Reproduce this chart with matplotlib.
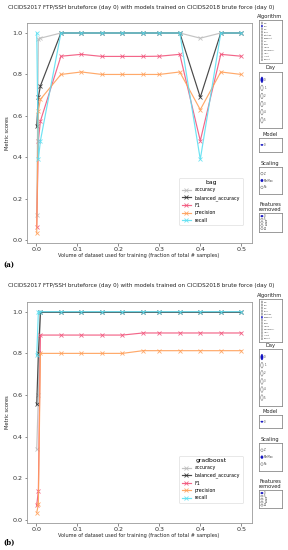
import matplotlib
matplotlib.use("Agg")
import matplotlib.pyplot as plt
from matplotlib.patches import Ellipse

# ---------------- data ----------------
title = "CICIDS2017 FTP/SSH bruteforce (day 0) with models trained on CICIDS2018 brute force (day 0)"
x_frac = [0.001, 0.005, 0.01, 0.06, 0.11, 0.16, 0.21, 0.26, 0.30, 0.35, 0.40, 0.45, 0.50]
metric_names = ["accuracy", "balanced_accuracy", "F1", "precision", "recall"]

bag_accuracy = [0.12, 0.97, 0.975, 1.0, 1.0, 1.0, 1.0, 1.0, 1.0, 1.0, 0.975, 1.0, 1.0]
bag_balanced = [0.55, 0.69, 0.745, 1.0, 1.0, 1.0, 1.0, 1.0, 1.0, 1.0, 0.69, 1.0, 1.0]
bag_f1 = [0.065, 0.48, 0.575, 0.888, 0.897, 0.887, 0.887, 0.887, 0.888, 0.897, 0.48, 0.897, 0.888]
bag_precision = [0.035, 0.625, 0.68, 0.80, 0.812, 0.80, 0.80, 0.80, 0.80, 0.812, 0.63, 0.812, 0.80]
bag_recall = [1.0, 0.39, 0.48, 1.0, 1.0, 1.0, 1.0, 1.0, 1.0, 1.0, 0.39, 1.0, 1.0]

gb_accuracy = [0.34, 0.60, 1.0, 1.0, 1.0, 1.0, 1.0, 1.0, 1.0, 1.0, 1.0, 1.0, 1.0]
gb_balanced = [0.555, 0.80, 0.997, 0.997, 0.997, 0.997, 0.997, 0.997, 0.997, 0.997, 0.997, 0.997, 0.997]
gb_f1 = [0.07, 0.14, 0.888, 0.888, 0.888, 0.888, 0.888, 0.898, 0.898, 0.898, 0.898, 0.898, 0.898]
gb_precision = [0.035, 0.075, 0.80, 0.80, 0.80, 0.80, 0.80, 0.813, 0.813, 0.813, 0.813, 0.813, 0.813]
gb_recall = [0.79, 1.0, 1.0, 1.0, 1.0, 1.0, 1.0, 1.0, 1.0, 1.0, 1.0, 1.0, 1.0]

algorithms = ["ada", "bag", "bnb", "dtree", "extratree", "gradboost", "knn", "linsvc",
              "logreg", "mlpclassifier", "rbfsvc", "rforest", "xgboost"]
days = ["0", "1", "2", "3", "4", "5"]
models = ["0"]
scalings = ["Z", "MinMax", "No"]
features_removed = ["0", "5", "10", "15", "20"]

colors = ["#bdbdbd", "#353535", "#f2557c", "#ffa05a", "#5ee0f2"]

# ---------------- figure ----------------
W, H = 288, 550
fig = plt.figure(figsize=(W / 100, H / 100), dpi=100)
plt.rcParams['font.family'] = ['DejaVu Sans']


def px_axes(left, top, right, bottom):
    return fig.add_axes([left / W, 1 - bottom / H, (right - left) / W, (bottom - top) / H])


def main_panel(top, bottom, series, name, leg_bottom):
    ax = px_axes(26.5, top, 251.5, bottom)
    for vals, lab, c in zip(series, metric_names, colors):
        ax.plot(x_frac, vals, color=c, lw=0.85, marker='x', ms=2.7, mew=0.6,
                alpha=0.9, label=lab)
    ax.set_xticks([0.0, 0.1, 0.2, 0.3, 0.4, 0.5])
    ax.set_yticks([0.0, 0.2, 0.4, 0.6, 0.8, 1.0])
    ax.tick_params(labelsize=4.6, length=1.8, width=0.4, pad=1, colors='#333333')
    for s in ax.spines.values():
        s.set_color('#9a9a9a')
        s.set_linewidth(0.6)
    ax.set_xlabel("Volume of dataset used for training (fraction of total # samples)",
                  fontsize=3.6, labelpad=0.8, color='#222222')
    ax.set_ylabel("Metric scores", fontsize=3.7, labelpad=1.5, color='#222222')
    leg = ax.legend(title=name, loc='lower right', bbox_to_anchor=(0.96, leg_bottom),
                    borderaxespad=0, fontsize=3.4, title_fontsize=4.4, frameon=True,
                    handlelength=2.0, labelspacing=0.5, borderpad=0.5)
    leg.get_frame().set_linewidth(0.4)
    leg.get_frame().set_edgecolor('#cccccc')
    return ax


def radio_box(top, bottom, label, items, active, item_fs=1.8):
    ax = px_axes(258.5, top, 281.5, bottom)
    ax.set_xticks([])
    ax.set_yticks([])
    ax.set_xlim(0, 1)
    ax.set_ylim(0, 1)
    for s in ax.spines.values():
        s.set_color('#8a8a8a')
        s.set_linewidth(0.6)
    n = len(items)
    dy = 1.0 / (n + 1)
    r = min(dy / 2 - 0.01, 0.05)
    for i, it in enumerate(items):
        y = 1 - dy * (i + 1)
        on = (i == active)
        e = Ellipse((0.15, y), 2 * r, 2 * r, transform=ax.transAxes,
                    facecolor='#1010c0' if on else 'white',
                    edgecolor='#1010c0' if on else '#555555', lw=0.3)
        ax.add_patch(e)
        ax.text(0.25, y, it, fontsize=item_fs, va='center', ha='left', color='#333333')
    cx = (258.5 + 281.5) / 2
    fig.text(cx / W, 1 - (top - 1.2) / H, label, fontsize=3.7, ha='center', va='bottom',
             color='#222222', linespacing=1.0)
    return ax


# panel (a)
fig.text(141 / W, 1 - 7 / H, title, fontsize=4.1, ha='center', va='center', color='#222222')
main_panel(23, 243, [bag_accuracy, bag_balanced, bag_f1, bag_precision, bag_recall], "bag", 0.082)
radio_box(20, 62.7, "Algorithm", algorithms, 1, item_fs=1.3)
radio_box(71.7, 128.3, "Day", days, 0)
radio_box(138, 151.7, "Model", models, 0)
radio_box(166.7, 194.3, "Scaling", scalings, 1)
radio_box(213, 231.7, "Features\nremoved", features_removed, 0)
fig.text(3 / W, 1 - 265 / H, "(a)", fontsize=5, ha='left', va='center',
         family='DejaVu Serif', fontweight='bold')

# panel (b)
fig.text(141 / W, 1 - 286 / H, title, fontsize=4.1, ha='center', va='center', color='#222222')
main_panel(301.7, 522.7, [gb_accuracy, gb_balanced, gb_f1, gb_precision, gb_recall], "gradboost", 0.09)
radio_box(299, 341.7, "Algorithm", algorithms, 5, item_fs=1.3)
radio_box(349, 405.7, "Day", days, 0)
radio_box(415, 428.3, "Model", models, 0)
radio_box(443.3, 471, "Scaling", scalings, 1)
radio_box(490, 508.3, "Features\nremoved", features_removed, 0)
fig.text(3 / W, 1 - 543 / H, "(b)", fontsize=5, ha='left', va='center',
         family='DejaVu Serif', fontweight='bold')

fig.savefig("out.png", dpi=100)
